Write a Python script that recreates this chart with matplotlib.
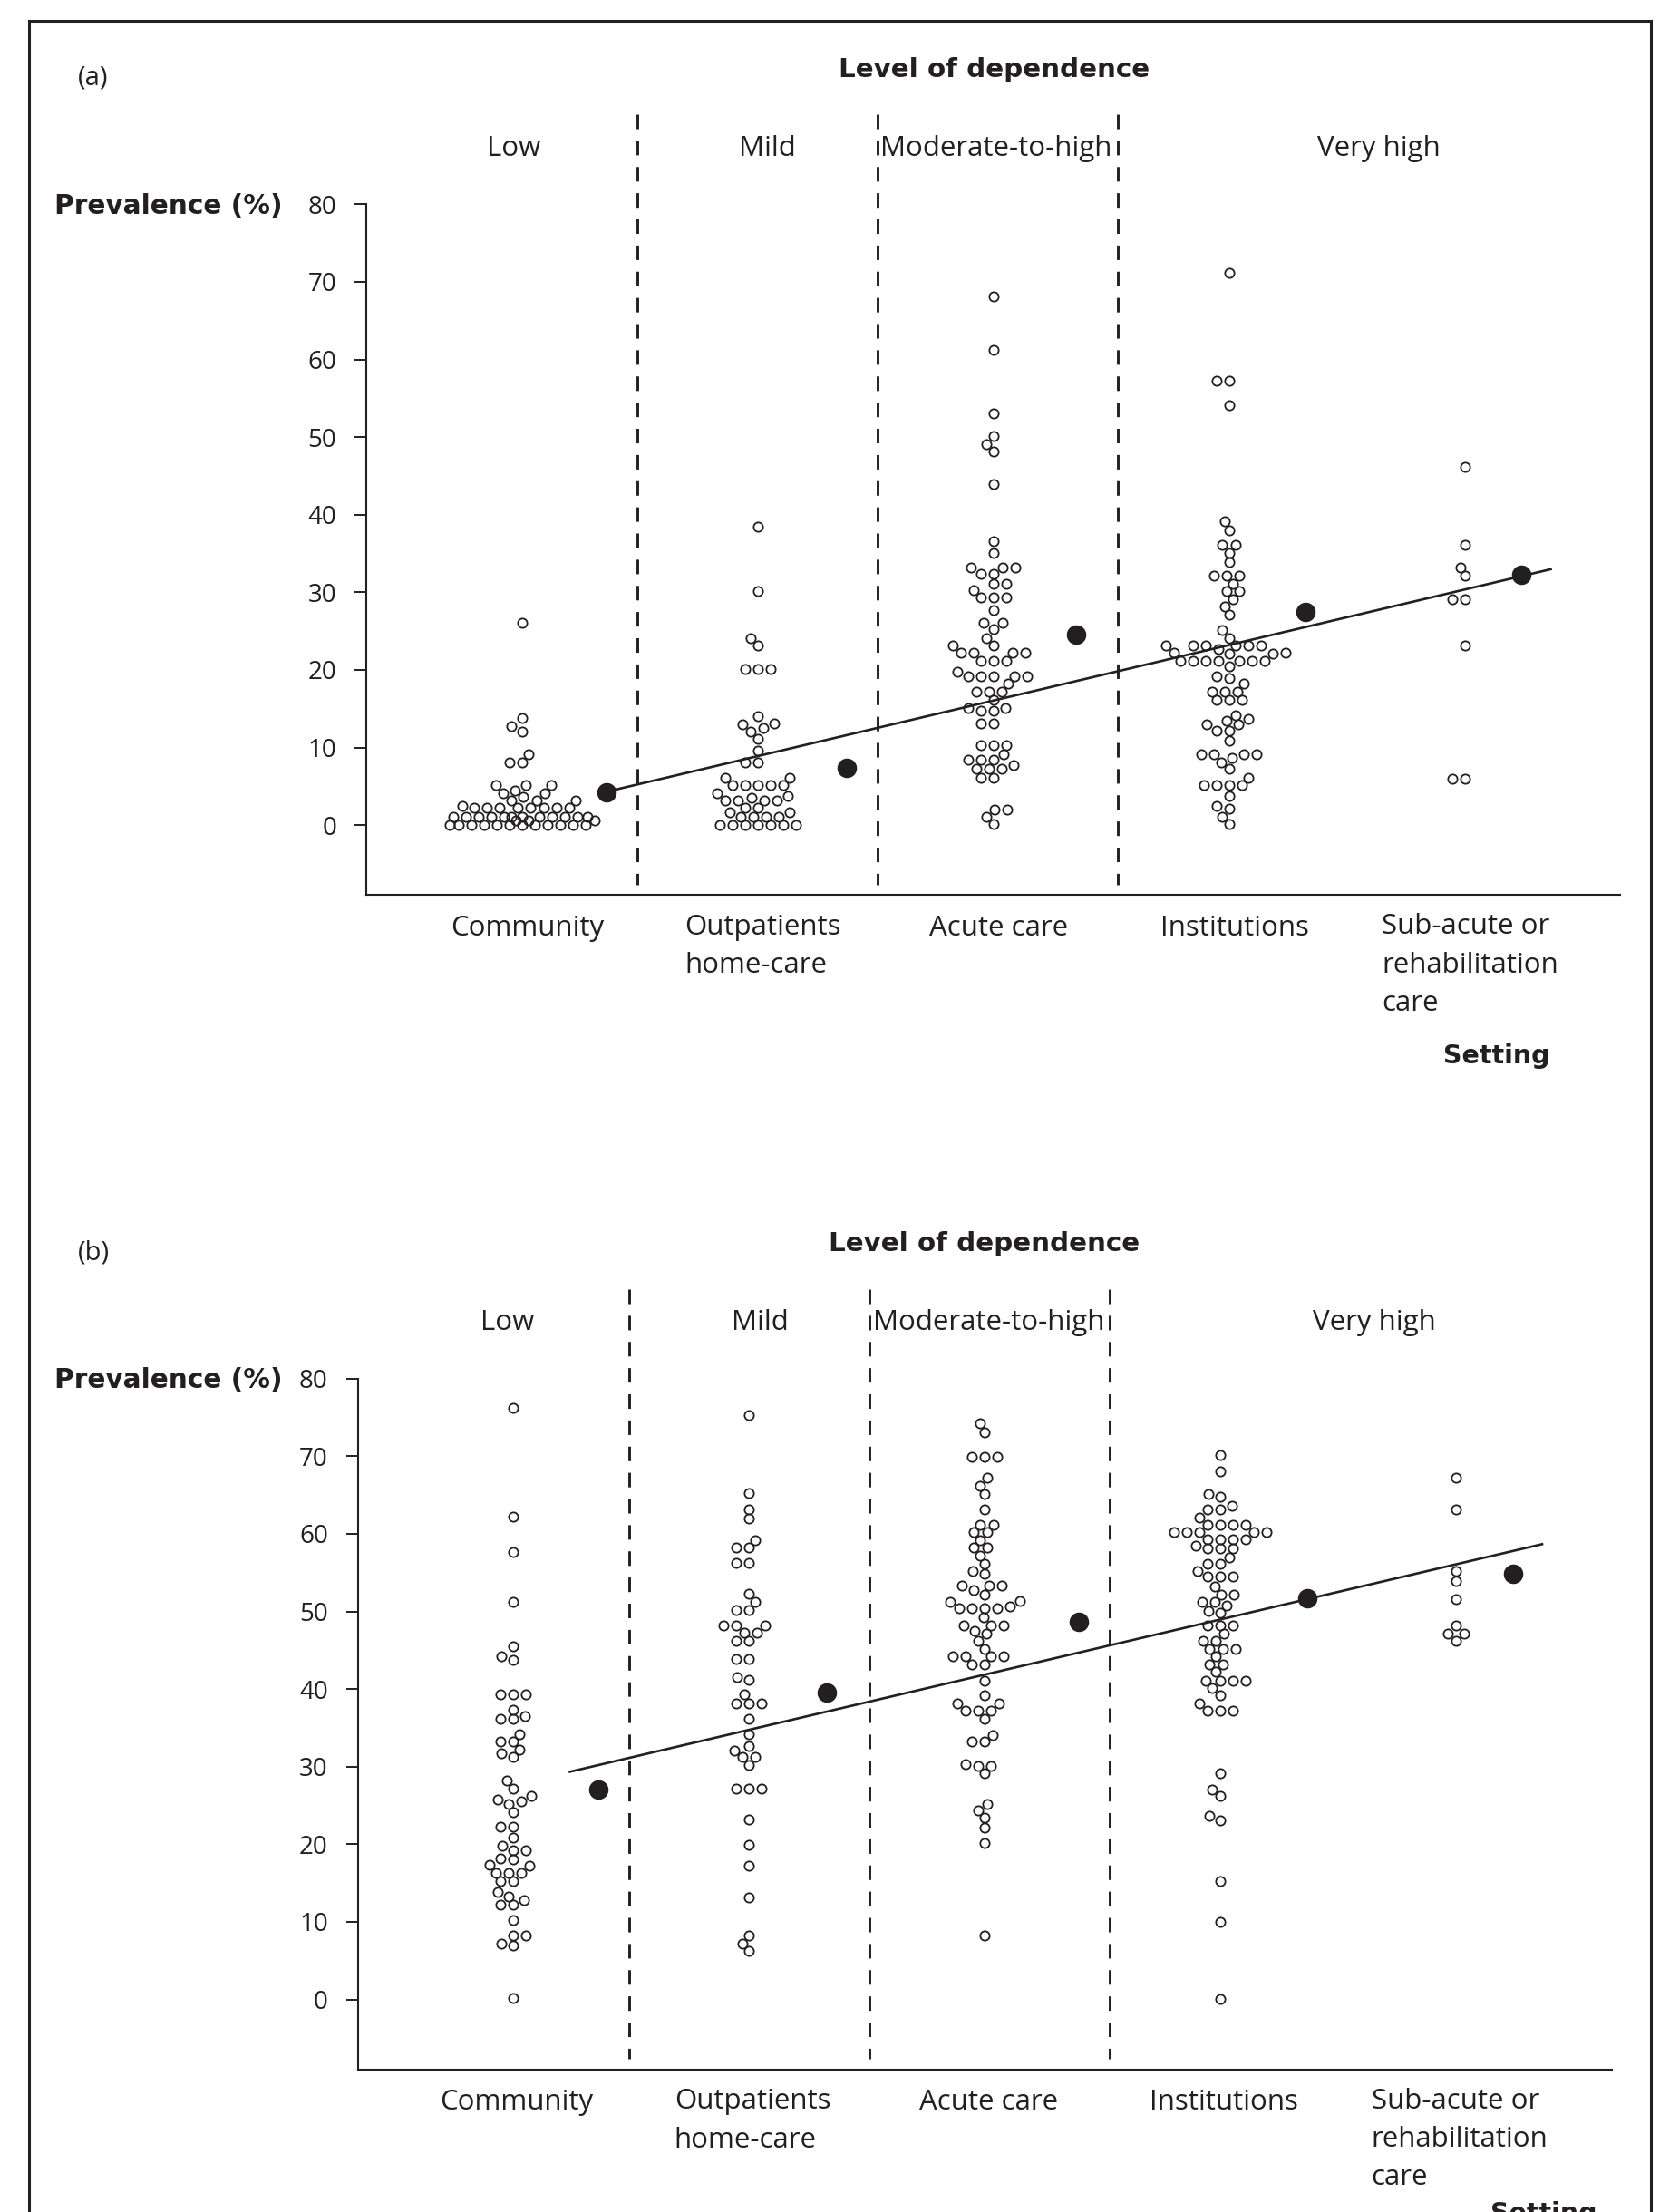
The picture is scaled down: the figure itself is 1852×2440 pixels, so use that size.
import numpy as np
import matplotlib
matplotlib.use("Agg")
import matplotlib.pyplot as plt
from matplotlib.patches import Rectangle

# ---------------- data ----------------
categories = ["Community", "Outpatients\nhome-care", "Acute care", "Institutions",
              "Sub-acute or\nrehabilitation\ncare"]
levels = ["Low", "Mild", "Moderate-to-high", "Very high"]
yticks = [0, 10, 20, 30, 40, 50, 60, 70, 80]

community_a = [26.1, 13.8, 12.7, 12.1, 9.1, 8.1, 8.1, 5.1, 5.1, 5.1, 4.5, 4.1, 4.1, 3.6,
               3.2, 3.2, 3.2, 2.5, 2.2, 2.2, 2.2, 2.2, 2.2, 2.2, 2.2, 2.2,
               1.1, 1.1, 1.1, 1.1, 1.1, 1.1, 1.1, 1.1, 1.1, 1.1, 1.1, 1.1,
               0.6, 0.6, 0.6,
               0.0, 0.0, 0.0, 0.0, 0.0, 0.0, 0.0, 0.0, 0.0, 0.0, 0.0, 0.0]
outpatients_a = [38.4, 30.1, 24.1, 23.1, 20.1, 20.1, 20.1, 14.0, 13.1, 13.0, 12.5, 12.1,
                 11.1, 9.6, 8.1, 8.1, 6.1, 6.1, 5.1, 5.1, 5.1, 5.1, 5.1, 4.1, 3.7, 3.5,
                 3.2, 3.2, 3.2, 3.2, 2.2, 2.2, 1.7, 1.7, 1.1, 1.1, 1.1, 1.1,
                 0.0, 0.0, 0.0, 0.0, 0.0, 0.0, 0.0]
acute_a = [68.1, 61.2, 53.1, 50.1, 49.1, 48.1, 43.9, 36.6, 35.1, 33.2, 33.2, 33.2,
           32.4, 32.4, 31.1, 31.1, 30.3, 29.3, 29.3, 29.3, 27.7, 26.1, 26.1, 25.3, 24.1,
           23.1, 23.1, 22.2, 22.2, 22.2, 22.2, 21.2, 21.2, 21.2, 19.8,
           19.2, 19.2, 19.2, 19.2, 19.2, 18.2, 17.2, 17.2, 17.2, 16.1, 15.1, 15.1,
           14.7, 14.7, 13.1, 13.1, 10.3, 10.3, 10.3, 9.1, 8.4, 8.4, 8.4, 7.7,
           7.2, 7.2, 7.2, 6.1, 6.1, 2.0, 2.0, 1.1, 0.1]
institutions_a = [71.1, 57.2, 57.2, 54.1, 39.1, 38.0, 36.1, 36.1, 35.1, 33.9,
                  32.1, 32.1, 32.1, 31.1, 30.1, 30.1, 29.1, 28.2, 27.1, 25.1, 24.1,
                  23.1, 23.1, 23.1, 23.1, 23.1, 23.1, 22.7, 22.2, 22.2, 22.1, 22.1,
                  21.2, 21.2, 21.2, 21.2, 21.2, 21.2, 21.2, 20.5, 19.2, 18.9, 18.2,
                  17.2, 17.2, 17.2, 16.1, 16.1, 16.1, 14.2, 13.7, 13.4, 13.0, 13.0,
                  12.2, 12.2, 10.9, 9.1, 9.1, 9.1, 9.1, 8.7, 8.1, 7.2, 6.1,
                  5.1, 5.1, 5.1, 5.1, 3.7, 2.5, 2.1, 1.1, 0.1]
subacute_a = [46.1, 36.1, 33.2, 32.1, 29.1, 29.1, 23.1, 6.0, 6.0]
means_a = [4.2, 7.4, 24.5, 27.5, 32.2]
trend_a = [4.3, 33.0]

community_b = [76.2, 62.2, 57.7, 51.2, 45.5, 44.2, 43.7, 39.3, 39.3, 39.3, 37.3, 36.5,
               36.1, 36.1, 34.2, 33.2, 33.2, 32.2, 31.7, 31.2, 28.2, 27.2, 26.2, 25.8,
               25.5, 25.2, 24.1, 22.2, 22.2, 20.8, 19.8, 19.2, 19.2, 18.2, 18.0, 17.3,
               17.2, 16.3, 16.3, 16.3, 15.2, 15.2, 13.8, 13.3, 12.8, 12.2, 12.2, 10.2,
               8.2, 8.2, 7.2, 6.9, 0.2]
outpatients_b = [75.3, 65.2, 63.2, 62.0, 59.2, 58.2, 58.2, 56.2, 56.2, 52.3, 51.2,
                 50.2, 50.2, 48.2, 48.2, 48.2, 47.3, 47.3, 46.2, 46.2, 43.9, 43.9,
                 41.5, 41.2, 39.3, 38.2, 38.2, 38.2, 36.2, 34.2, 32.7, 32.1, 31.2, 31.2,
                 30.2, 27.2, 27.2, 27.2, 23.2, 19.9, 17.2, 13.2, 8.2, 7.2, 6.2]
acute_b = [74.2, 73.1, 69.9, 69.9, 69.9, 67.2, 66.2, 65.1, 63.2, 61.2, 61.2, 60.2, 60.2,
           59.2, 58.2, 58.2, 57.2, 56.1, 55.2, 54.9, 53.3, 53.3, 53.3, 52.8, 52.2, 51.4,
           51.2, 50.7, 50.4, 50.4, 50.4, 50.4, 49.2, 48.2, 48.2, 48.2, 47.5, 47.1, 46.2,
           45.2, 44.2, 44.2, 44.2, 44.2, 43.2, 43.2, 41.1, 39.2, 38.1, 38.1, 37.2, 37.2,
           37.2, 36.2, 34.1, 33.2, 33.2, 30.3, 30.1, 30.1, 29.1, 25.2, 24.4, 23.4, 22.1,
           20.1, 8.2]
institutions_b = [70.1, 68.1, 65.1, 64.8, 63.6, 63.2, 63.2, 62.1, 61.2, 61.2, 61.2, 61.2,
                  60.2, 60.2, 60.2, 60.2, 60.2, 59.3, 59.3, 59.3, 59.3, 58.5, 58.1, 58.1,
                  58.1, 56.9, 56.1, 56.1, 55.2, 54.5, 54.5, 54.5, 53.2, 52.2, 52.2, 51.2,
                  51.2, 50.8, 50.1, 49.8, 48.2, 48.2, 48.2, 47.1, 46.2, 46.2, 45.2, 45.2,
                  45.2, 44.2, 43.2, 43.2, 42.2, 41.1, 41.1, 41.1, 41.1, 40.1, 39.2, 38.1,
                  37.2, 37.2, 37.2, 29.1, 27.1, 26.2, 23.7, 23.1, 15.2, 10.0, 0.1]
subacute_b = [67.2, 63.2, 55.2, 53.9, 51.6, 48.2, 47.1, 47.1, 46.2]
means_b = [27.1, 39.5, 48.7, 51.7, 54.9]
trend_b = [29.3, 58.7]

# ---------------- layout / style ----------------
W, H = 1852, 2440
INK = "#231f20"
REG = "Open Sans"
BOLD = "DejaVu Sans"
PX_X = 260.0          # px per category
PX_Y = 8.56           # px per % unit
XLIM = (-0.66, 4.66)
YLIM = (-9, 80)
DIVIDERS = [0.49, 1.51, 2.53]
LINE_PITCH = 41.5     # px between baselines of the category labels

fig = plt.figure(figsize=(W / 100, H / 100), dpi=100)
fig.patch.set_facecolor("white")


def fx(px):
    return px / W


def fy(py):
    return 1 - py / H


def swarm(vals, dx=14.0, dy=10.0, limit=80.0):
    """simple beeswarm: returns horizontal offsets (in category units)"""
    vals = np.asarray(vals, float)
    order = np.argsort(vals, kind="stable")
    placed = []
    out = np.zeros(len(vals))

    def clearance(c, y):
        if not placed:
            return np.inf
        return min(((c - px) / dx) ** 2 + ((y - py) / dy) ** 2 for px, py in placed)

    for k in order:
        y = vals[k] * PX_Y
        cands = [0.0]
        for px, py in placed:
            d = abs(py - y)
            if d < dy:
                w = dx * np.sqrt(1 - (d / dy) ** 2)
                cands += [px - w, px + w]
        cands = [c for c in cands if abs(c) <= limit]
        cands.sort(key=lambda c: (round(abs(c), 6), c))
        best = None
        for c in cands:
            if clearance(c, y) >= 0.999:
                best = c
                break
        if best is None:
            grid = np.arange(-limit, limit + 0.5, 1.0)
            scores = [(-clearance(c, y), abs(c)) for c in grid]
            best = grid[min(range(len(grid)), key=lambda j: scores[j])]
        placed.append((best, y))
        out[k] = best / PX_X
    return out


def panel(left_px, top_px, groups, means, mean_dx, trend_x, trend_vals, tag,
          hdr_x, lvl_x, lab_dx, setting_right, setting_base):
    h_px = (YLIM[1] - YLIM[0]) * PX_Y
    w_px = (XLIM[1] - XLIM[0]) * PX_X
    ax = fig.add_axes([fx(left_px), fy(top_px + h_px), w_px / W, h_px / H])
    ax.set_xlim(*XLIM)
    ax.set_ylim(*YLIM)
    ax.set_facecolor("none")
    for s in ("top", "right"):
        ax.spines[s].set_visible(False)
    for s in ("left", "bottom"):
        ax.spines[s].set_color(INK)
        ax.spines[s].set_linewidth(1.5)
    ax.set_xticks([])
    ax.set_yticks(yticks)
    ax.set_yticklabels([str(t) for t in yticks], fontsize=20, family=REG, color=INK)
    ax.tick_params(axis="y", direction="out", length=9.5, width=1.4, color=INK, pad=14)

    tr = ax.get_xaxis_transform()
    for xd in DIVIDERS:
        ax.plot([xd, xd], [1.13, 0.015], transform=tr, color=INK, lw=2.1,
                linestyle=(0, (5.5, 4.4)), clip_on=False, zorder=1)

    for i, vals in enumerate(groups):
        off = swarm(vals)
        ax.plot(i + off, vals, "o", ls="none", mfc="none", mec=INK, ms=7.4, mew=1.3,
                zorder=3, clip_on=False)
    ax.plot(np.arange(len(means)) + np.asarray(mean_dx), means, "o", ls="none",
            color=INK, ms=14.5, zorder=5)
    ax.plot(trend_x, trend_vals, color=INK, lw=1.9, zorder=4, solid_capstyle="butt")

    dy = top_px - 225.3
    # texts
    fig.text(fx(86), fy(94 + dy), tag, fontsize=21, family=REG, color=INK,
             ha="left", va="baseline")
    fig.text(fx(hdr_x), fy(85 + dy), "Level of dependence", fontsize=21.2, family=BOLD,
             weight="bold", color=INK, ha="center", va="baseline")
    for name, x in zip(levels, lvl_x):
        fig.text(fx(x), fy(171.7 + dy), name, fontsize=22.5, family=REG, color=INK,
                 ha="center", va="baseline")
    fig.text(fx(60), fy(236 + dy), "Prevalence (%)", fontsize=21.3, family=BOLD,
             weight="bold", color=INK, ha="left", va="baseline")
    for i, name in enumerate(categories):
        xpx = left_px + (i - XLIM[0]) * PX_X + lab_dx
        nlines = name.count("\n")
        fig.text(fx(xpx), fy(1031.7 + dy + nlines * LINE_PITCH), name, fontsize=22.5,
                 family=REG, color=INK, ha="center", va="baseline",
                 multialignment="left", linespacing=1.528)
    fig.text(fx(setting_right), fy(setting_base), "Setting", fontsize=20.5, family=BOLD,
             weight="bold", color=INK, ha="right", va="baseline")
    return ax


panel(404, 225.3,
      [community_a, outpatients_a, acute_a, institutions_a, subacute_a],
      means_a, [0.36, 0.38, 0.35, 0.325, 0.24], [0.36, 4.37], trend_a, "(a)",
      1097, [567, 846, 1099, 1521], 6, 1709, 1172.7)

panel(394.5, 1520.7,
      [community_b, outpatients_b, acute_b, institutions_b, subacute_b],
      means_b, [0.36, 0.33, 0.40, 0.37, 0.24], [0.235, 4.37], trend_b, "(b)",
      1086, [560, 838, 1091, 1516], 4, 1762, 2449.5)

# outer frame (bottom edge falls outside the picture)
fig.add_artist(Rectangle((fx(31.6), fy(2470)), (1821 - 31.6) / W, (2470 - 22.7) / H,
                         transform=fig.transFigure, fill=False, lw=2.2, ec=INK))

fig.savefig("out.png", dpi=100, facecolor="white")
